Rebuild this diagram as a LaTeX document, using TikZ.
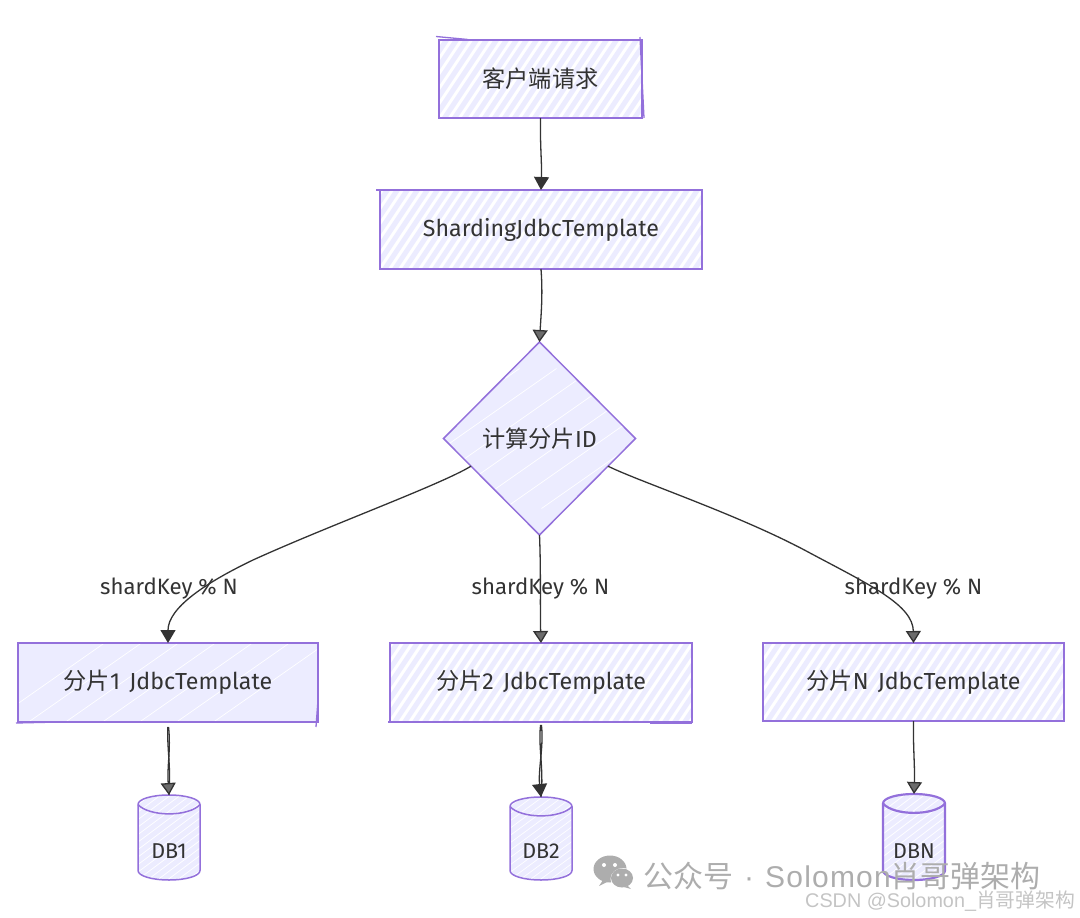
\documentclass[tikz,border=0pt]{standalone}
\usepackage{fontspec}
\setmainfont{Fira Sans}
\newfontfamily\cjk{Noto Sans CJK SC}
\newfontfamily\wm{Liberation Sans}
\newfontfamily\wmw[LetterSpace=4]{Liberation Sans}
\usetikzlibrary{shapes.geometric,arrows.meta}
\definecolor{mfill}{HTML}{ECECFF}
\definecolor{mline}{HTML}{9370DB}
\definecolor{mtext}{HTML}{333333}
\definecolor{wmgrey}{HTML}{ADADAD}
\definecolor{wmgreyb}{HTML}{C4C4C4}
\newcommand{\hatchlines}{%
  \fill[white] (path picture bounding box.south west) rectangle (path picture bounding box.north east);
  \foreach \k in {-360,-350,...,360}{
    \draw[mfill,line width=5pt] ([xshift=\k pt]path picture bounding box.center) ++(-100pt,-150pt) -- ++(200pt,300pt);
  }}
\newcommand{\streaklines}{%
  \foreach \k in {-120,-83,...,120}{
    \draw[white,line width=0.7pt] ([xshift=\k pt]path picture bounding box.center) ++(-100pt,-70pt) -- ++(200pt,140pt);
  }}
% name, centre x, top y, bottom y, line width
\newcommand{\dbcyl}[5]{%
  \node[rectangle,inner sep=0pt,outer sep=0pt,minimum width=62pt,minimum height={#4-#3}] (#1) at (#2,{(#3+#4)/2}) {};
  \begin{scope}
    \clip (#2-31,#3+9.5) .. controls (#2-31,#3+4) and (#2-17,#3) .. (#2,#3)
       .. controls (#2+17,#3) and (#2+31,#3+4) .. (#2+31,#3+9.5)
       -- (#2+31,#4-9.5) .. controls (#2+31,#4-4) and (#2+17,#4) .. (#2,#4)
       .. controls (#2-17,#4) and (#2-31,#4-4) .. (#2-31,#4-9.5) -- cycle;
    \foreach \k in {-90,-80,...,90}{
      \draw[mfill,line width=5pt] (#2+\k-70,#4+10) -- (#2+\k+70,#3-10);
    }
  \end{scope}
  \draw[draw=mline,line width=#5] (#2-31,#3+9.5) .. controls (#2-31,#3+4) and (#2-17,#3) .. (#2,#3)
       .. controls (#2+17,#3) and (#2+31,#3+4) .. (#2+31,#3+9.5)
       -- (#2+31,#4-9.5) .. controls (#2+31,#4-4) and (#2+17,#4) .. (#2,#4)
       .. controls (#2-17,#4) and (#2-31,#4-4) .. (#2-31,#4-9.5) -- cycle;
  \draw[draw=mline,line width=#5] (#2-31,#3+9.5) .. controls (#2-20,#3+22) and (#2+20,#3+22) .. (#2+31,#3+9.5);
}
\tikzset{
  base/.style={draw=mline,line width=1.5pt,text=mtext,font=\fontsize{23.2}{27}\selectfont,inner sep=0pt,outer sep=0pt},
  hatched/.style={base,path picture={\hatchlines}},
  solidish/.style={base,fill=mfill,path picture={\streaklines}},
  boxnode/.style={rectangle},
  dia/.style={diamond,aspect=1,minimum width=192pt,minimum height=193pt},
  edge/.style={draw=mtext,line width=1.3pt},
  solidtip/.style={-{Triangle[length=13pt,width=15pt,fill=mtext]}},
  hatchtip/.style={-{Triangle[length=12pt,width=15pt,fill=mtext!72!white]}},
  elabel/.style={text=mtext,font=\fontsize{22.2}{26}\selectfont,inner sep=0pt},
  sketch/.style={draw=mline,line width=1.3pt},
  dblabel/.style={text=mtext,font=\fontsize{21.5}{25}\selectfont,inner sep=0pt}
}
\begin{document}
\begin{tikzpicture}[x=1pt,y=-1pt]
\useasboundingbox (0,0) rectangle (1080,918);
% boxes
\node[hatched,boxnode,minimum width=203pt,minimum height=78pt] (a) at (540.5,79) {{\cjk 客户端请求}};
\node[hatched,boxnode,minimum width=322pt,minimum height=79pt] (b) at (541,229.5) {ShardingJdbcTemplate};
\node[solidish,dia] (d) at (539.5,438.5) {{\cjk 计算分片}ID};
\node[solidish,boxnode,minimum width=300pt,minimum height=79pt] (p1) at (168,682.5) {{\cjk 分片}1\hspace{3pt} JdbcTemplate};
\node[hatched,boxnode,minimum width=302pt,minimum height=79pt] (p2) at (541,682.5) {{\cjk 分片}2\hspace{3pt} JdbcTemplate};
\node[hatched,boxnode,minimum width=301pt,minimum height=78pt] (pn) at (913.5,682) {{\cjk 分片}N\hspace{3pt} JdbcTemplate};
\dbcyl{db1}{169}{795}{880}{1.5pt}
\dbcyl{db2}{541}{797}{880}{1.5pt}
\dbcyl{dbn}{914}{794}{880}{2.2pt}
\node[dblabel] (t1) at (169,851) {DB1};
\node[dblabel] (t2) at (541,851) {DB2};
\node[dblabel] (tn) at (914,851) {DBN};
% sketchy corner overshoots
\draw[sketch] (436,36.5) -- (468,39.5);
\draw[sketch] (640,37) -- (644,118);
\draw[sketch] (376,190) -- (420,190);
\draw[sketch] (16,723) -- (60,722);
\draw[sketch] (316,727) -- (318,700);
\draw[sketch] (388,722) -- (440,722);
\draw[sketch] (650,723) -- (692,723);
% connectors
\draw[edge,solidtip] (a.south) .. controls (540,145) and (542,165) .. (b.north);
\draw[edge,hatchtip] (b.south) .. controls (543,295) and (541,315) .. (d.north);
\draw[edge,solidtip] (d.202) .. controls (440,485) and (330,525) .. (253,560)
   .. controls (205,583) and (168,608) .. (p1.north);
\draw[edge,hatchtip] (d.south) .. controls (541,570) and (540,610) .. (p2.north);
\draw[edge,hatchtip] (d.-22) .. controls (640,482) and (740,515) .. (810,553)
   .. controls (870,585) and (913,605) .. (pn.north);
\draw[edge,shorten <=5pt] (p1.south) .. controls (167,750) and (171,765) .. (db1.north);
\draw[edge,hatchtip,shorten <=5pt] (p1.south) .. controls (171,750) and (167,765) .. (db1.north);
\draw[edge,shorten <=3pt] (p2.south) .. controls (538,745) and (544,770) .. (db2.north);
\draw[edge,solidtip,shorten <=3pt] (p2.south) .. controls (544,745) and (538,770) .. (db2.north);
\draw[edge,hatchtip] (pn.south) .. controls (913,745) and (915,770) .. (dbn.north);
% labels
\node[elabel] (l1) at (169,589) {shardKey \% N};
\node[elabel] (l2) at (540.5,589) {shardKey \% N};
\node[elabel] (l3) at (913.5,589) {shardKey \% N};
% watermark
\fill[wmgrey] (610,869) ellipse (16.5pt and 13.5pt);
\fill[wmgrey] (603,880) -- (599,886) -- (609,881) -- cycle;
\fill[white] (623,879) ellipse (12.5pt and 11pt);
\fill[wmgrey] (622,878) ellipse (11pt and 9.5pt);
\fill[wmgrey] (628,886) -- (631,889) -- (624,887) -- cycle;
\fill[white] (604,865) circle (2pt) (615,865) circle (2pt) (618,875) circle (1.6pt) (626,875) circle (1.6pt);
\node[text=wmgrey,font=\fontsize{30}{33}\selectfont,inner sep=0pt,anchor=west] (wm1) at (643,876) {{\cjk 公众号}\hspace{11pt}{\wm ·}\hspace{11pt}{\wmw Solomon}{\cjk 肖哥弹架构}};
\node[text=wmgreyb,font=\wm\fontsize{19.8}{22}\selectfont,inner sep=0pt,anchor=west] (wm2) at (805,901) {CSDN @Solomon\_{\cjk 肖哥弹架构}};
\end{tikzpicture}
\end{document}
